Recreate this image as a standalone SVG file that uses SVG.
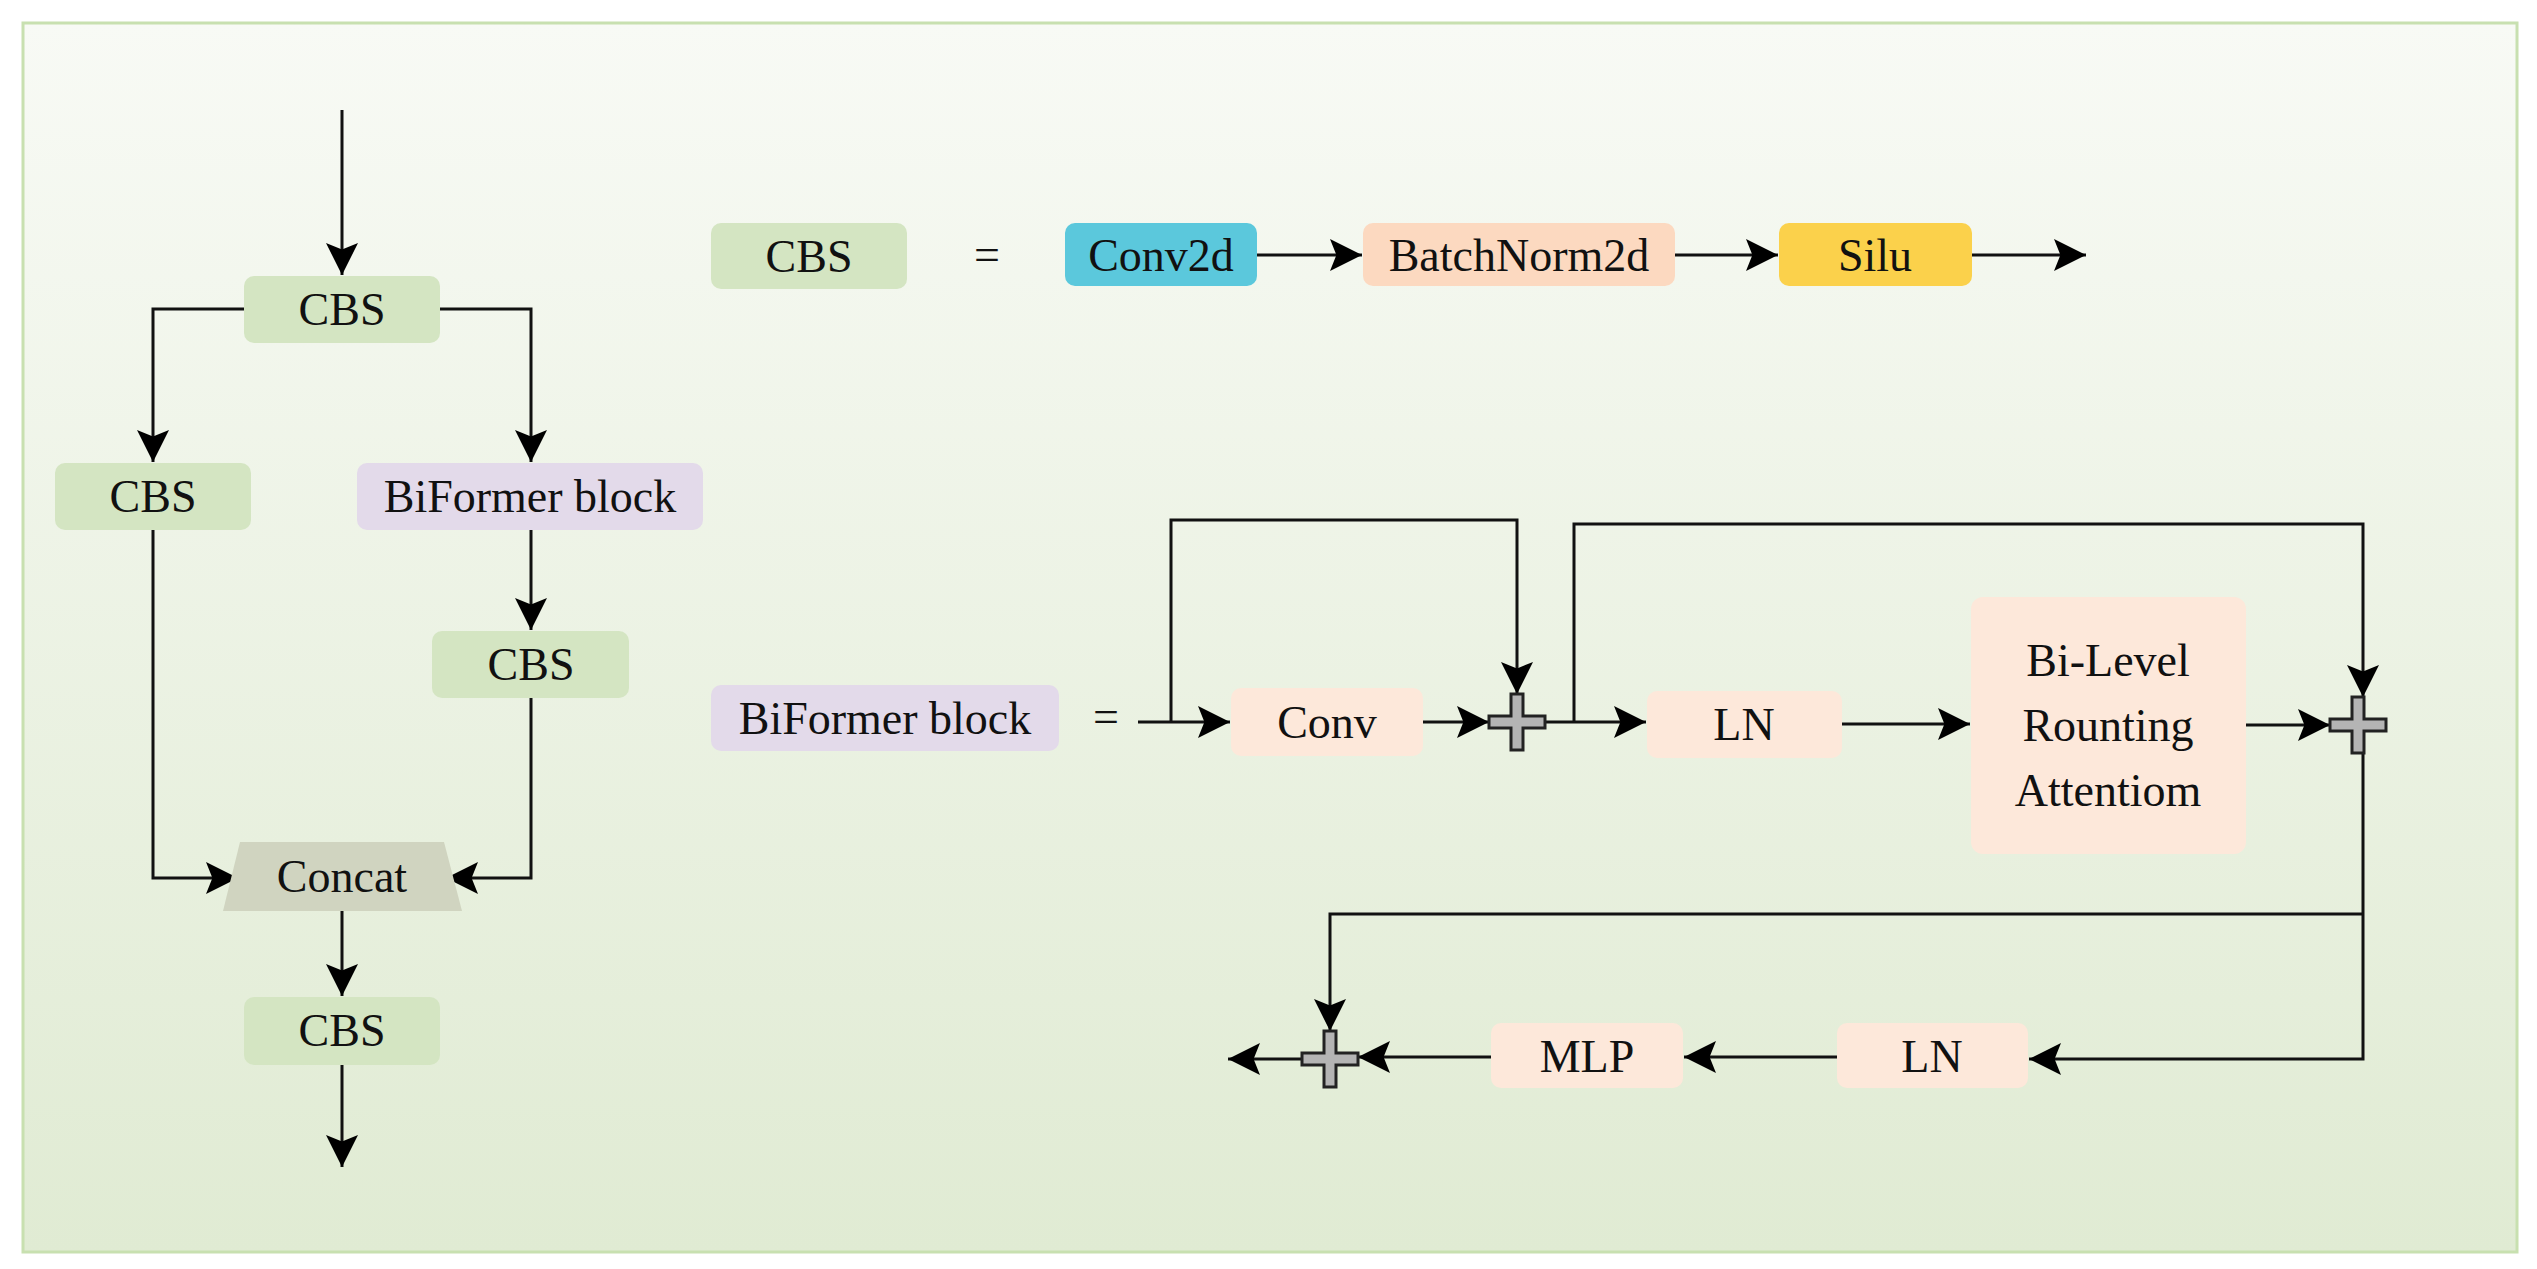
<svg xmlns="http://www.w3.org/2000/svg" width="2537" height="1269" viewBox="0 0 2537 1269">
<defs>
<linearGradient id="bg" x1="0" y1="0" x2="0" y2="1"><stop offset="0" stop-color="#f8faf5"/><stop offset="1" stop-color="#e0ebd3"/></linearGradient>
<marker id="a" viewBox="0 0 10 10" refX="10" refY="5" markerWidth="32" markerHeight="32" markerUnits="userSpaceOnUse" orient="auto"><path d="M0,0 L10,5 L0,10 L2,5 z" fill="#000"/></marker>
<g id="plus"><path d="M-6,-28 h12 v22 h22 v12 h-22 v22 h-12 v-22 h-22 v-12 h22 z" fill="#b4b4b4" stroke="#222" stroke-width="3"/></g>
</defs>
<style>
.t{font-family:"Liberation Serif","Times New Roman",serif;font-size:46px;fill:#111;text-anchor:middle;dominant-baseline:central}
.c{fill:none;stroke:#111;stroke-width:3}
.g{fill:#d4e5c2}.p{fill:#e3daea}.o{fill:#fde8da}
</style>
<rect x="23" y="23" width="2494" height="1229" fill="url(#bg)" stroke="#c8e0b0" stroke-width="3"/>
<g id="connectors" class="c">
<path d="M342,110 V275" marker-end="url(#a)"/>
<path d="M244,309 H153 V462" marker-end="url(#a)"/>
<path d="M440,309 H531 V462" marker-end="url(#a)"/>
<path d="M531,530 V630" marker-end="url(#a)"/>
<path d="M153,530 V878 H238" marker-end="url(#a)"/>
<path d="M531,698 V878 H446" marker-end="url(#a)"/>
<path d="M342,911 V996" marker-end="url(#a)"/>
<path d="M342,1065 V1167" marker-end="url(#a)"/>
<path d="M1257,255 H1362" marker-end="url(#a)"/>
<path d="M1675,255 H1778" marker-end="url(#a)"/>
<path d="M1972,255 H2086" marker-end="url(#a)"/>
<path d="M1138,722 H1230" marker-end="url(#a)"/>
<path d="M1171,722 V520 H1517 V694" marker-end="url(#a)"/>
<path d="M1423,722 H1489" marker-end="url(#a)"/>
<path d="M1545,722 H1646" marker-end="url(#a)"/>
<path d="M1574,722 V524 H2363 V697" marker-end="url(#a)"/>
<path d="M1842,724 H1970" marker-end="url(#a)"/>
<path d="M2246,725 H2330" marker-end="url(#a)"/>
<path d="M2363,753 V1059 H2029" marker-end="url(#a)"/>
<path d="M2363,914 H1330 V1031" marker-end="url(#a)"/>
<path d="M1837,1057 H1684" marker-end="url(#a)"/>
<path d="M1491,1057 H1358" marker-end="url(#a)"/>
<path d="M1302,1059 H1228" marker-end="url(#a)"/>
</g>
<g id="cbs1"><rect class="g" x="244" y="276" width="196" height="67" rx="10"/><text class="t" x="342" y="309">CBS</text></g>
<g id="cbs2"><rect class="g" x="55" y="463" width="196" height="67" rx="10"/><text class="t" x="153" y="496">CBS</text></g>
<g id="bif1"><rect class="p" x="357" y="463" width="346" height="67" rx="10"/><text class="t" x="530" y="496">BiFormer block</text></g>
<g id="cbs3"><rect class="g" x="432" y="631" width="197" height="67" rx="10"/><text class="t" x="531" y="664">CBS</text></g>
<g id="concat"><path d="M240,842 H444 L462,911 H223 z" fill="#d0d4c0"/><text class="t" x="342" y="876">Concat</text></g>
<g id="cbs4"><rect class="g" x="244" y="997" width="196" height="68" rx="10"/><text class="t" x="342" y="1030">CBS</text></g>
<g id="cbsdef"><rect class="g" x="711" y="223" width="196" height="66" rx="10"/><text class="t" x="809" y="256">CBS</text><text class="t" x="987" y="254">=</text></g>
<g id="conv2d"><rect fill="#5bc8dc" x="1065" y="223" width="192" height="63" rx="10"/><text class="t" x="1161" y="255">Conv2d</text></g>
<g id="bn"><rect fill="#fcd9c0" x="1363" y="223" width="312" height="63" rx="10"/><text class="t" x="1519" y="255">BatchNorm2d</text></g>
<g id="silu"><rect fill="#fbd14b" x="1779" y="223" width="193" height="63" rx="10"/><text class="t" x="1875" y="255">Silu</text></g>
<g id="bifdef"><rect class="p" x="711" y="685" width="348" height="66" rx="10"/><text class="t" x="885" y="718">BiFormer block</text><text class="t" x="1106" y="716">=</text></g>
<g id="conv"><rect class="o" x="1231" y="688" width="192" height="68" rx="10"/><text class="t" x="1327" y="722">Conv</text></g>
<g id="plus1"><use href="#plus" x="1517" y="722"/></g>
<g id="ln1"><rect class="o" x="1647" y="691" width="195" height="67" rx="10"/><text class="t" x="1744" y="724">LN</text></g>
<g id="bra"><rect class="o" x="1971" y="597" width="275" height="257" rx="12"/><text class="t" x="2108" y="660">Bi-Level</text><text class="t" x="2108" y="725">Rounting</text><text class="t" x="2108" y="790">Attentiom</text></g>
<g id="plus2"><use href="#plus" x="2358" y="725"/></g>
<g id="ln2"><rect class="o" x="1837" y="1023" width="191" height="65" rx="10"/><text class="t" x="1932" y="1056">LN</text></g>
<g id="mlp"><rect class="o" x="1491" y="1023" width="192" height="65" rx="10"/><text class="t" x="1587" y="1056">MLP</text></g>
<g id="plus3"><use href="#plus" x="1330" y="1059"/></g>
</svg>
